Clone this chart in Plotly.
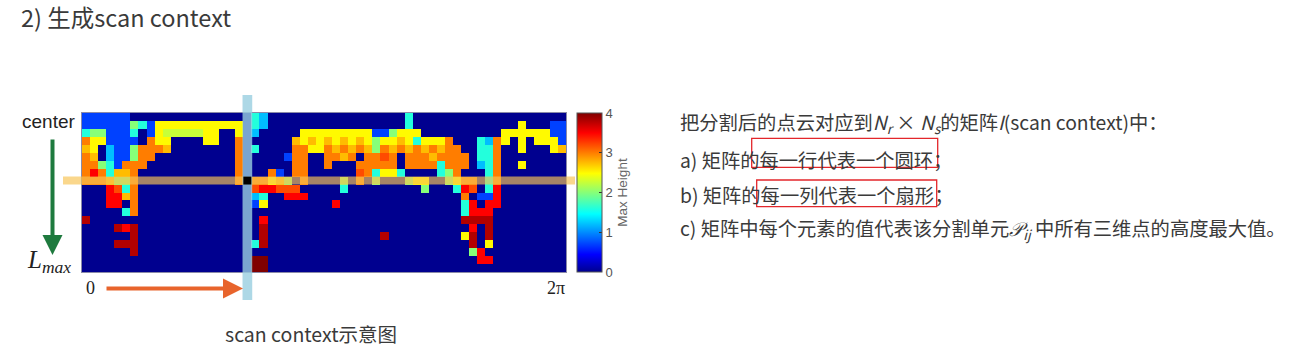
import plotly.graph_objects as go

W, H = 1296, 361

# ---- data: scan context matrix (20 rings x 60 sectors) ----
# each character is a quantised max-height level
LEVELS = {'.': 0.0, 'b': 0.7, 'c': 1.2, 'C': 1.6, 'g': 2.0, 'G': 2.25, 'y': 2.5, 'Y': 2.75,
          'o': 3.0, 'O': 3.2, 'r': 3.5, 'R': 3.8, 'D': 4.0}

SC_ROWS = [
    "bbbbbb...." ".........." ".Cc......." ".........." "C........." "..........",
    "bbbbbbgCby" "yyyyyyyyyy" ".Cc......." ".........." "C........." "....y...bb",
    "CggbbbC.by" "GGGGGyy..y" ".c.....yyy" "yyyyyybbgy" "yy........" "..yyyyyybb",
    "oyybbbb.oy" "y....yy..o" "......YyYy" "YyYyYygyyY" "yCyyyo...C" "coy.y.yyyb",
    "Yy.cbbgooo" "Y........o" ".C....ooyy" "oYoYoYgoYo" "YoYoYoo..C" "Co..y...yY",
    "oY.cbbgoo." ".........o" ".....boo.." "ooYo.ooOo." "oooYoooo.C" "Co........",
    "oogCbooo.." ".........o" "......oo.." "o...ooooo." "ooooCooo.c" "Co..y.....",
    "oroCYYo..." ".........o" "...ob.oo.." "....OoCyyC" "....Cgo..." "Co........",
    "oooYggo..." ".........o" ".ooyYg.o.." "..g.o.g..." "gyy..gyoo." "Co........",
    "...rOCo..." ".........." ".OrrOOO..." "..C......." "..g...CrO." "Cr........",
    "...rrYo..." ".........." ".cC..rrr.." ".........." ".......o.b" "br........",
    "...rr.o..." ".........." ".by......." ".r........" ".......Cr." "rr........",
    ".....Co..." ".........." ".........." ".........." ".......Crr" "r.........",
    "R........." ".........." "..r......." ".........." ".......RRR" "R.........",
    "....RrR..." ".........." "..R......." ".........." "........r." "R.........",
    "......R..." ".........." "..R......." ".......R.." ".......yR." "R.........",
    "....RRR..." ".........." ".CR......." ".........." "........R." "y.........",
    "......R..." ".........." ".........." ".........." "........gr" "..........",
    ".........." ".........." ".DD......." ".........." ".........r" "r.........",
    ".........." ".........." ".DD......." ".........." ".........." "..........",
]
for r in SC_ROWS:
    assert len(r) == 60, len(r)

Z = [[LEVELS[ch] for ch in row] for row in SC_ROWS]
RINGS = list(range(len(SC_ROWS)))
SECTORS = list(range(60))
HIGHLIGHT_RING = 8
HIGHLIGHT_SECTOR = 20
CBAR_TICKS = [0, 1, 2, 3, 4]

TITLE = "2) 生成scan context"
CAPTION = "scan context示意图"
DESC_LINES = [
    "把分割后的点云对应到<i>N<sub>r</sub></i> × <i>N<sub>s</sub></i>的矩阵<i>I</i>(scan context)中：",
    "a) 矩阵的每一行代表一个圆环；",
    "b) 矩阵的每一列代表一个扇形；",
    "c) 矩阵中每个元素的值代表该分割单元<i>𝒫<sub>ij</sub></i> 中所有三维点的高度最大值。",
]
DESC_Y = [123, 160, 195, 229]


def px(x):
    return x / W


def py(y):
    return 1 - y / H


JET = [[0.0, '#00008f'], [0.11, '#0000ff'], [0.365, '#00ffff'],
       [0.62, '#ffff00'], [0.875, '#ff0000'], [1.0, '#800000']]

CJK = "Noto Sans CJK SC"
TXT = "#3a3a3a"

fig = go.Figure()
fig.add_trace(go.Heatmap(
    z=Z, x=SECTORS, y=RINGS, colorscale=JET, zmin=0, zmax=4,
    colorbar=dict(
        x=px(577), xanchor='left', xpad=0, y=py(192.5), yanchor='middle', ypad=0,
        len=159, lenmode='pixels', thickness=25, thicknessmode='pixels',
        tickvals=CBAR_TICKS, ticks='inside', ticklen=3, tickcolor='#333',
        tickfont=dict(size=13, color='#555', family='Liberation Sans'),
        outlinewidth=1, outlinecolor='#555',
        title=dict(text='Max Height', side='right',
                   font=dict(size=13.5, color='#666', family='Liberation Sans')),
    ),
    hoverinfo='skip',
))

axis_common = dict(showgrid=False, zeroline=False, showticklabels=False, ticks='',
                   showline=True, mirror=True, linecolor='#8a8aa8', linewidth=1)
fig.update_layout(
    width=W, height=H, margin=dict(l=0, r=0, t=0, b=0),
    paper_bgcolor='white', plot_bgcolor='white',
    xaxis=dict(domain=[px(82), px(566)], range=[-0.5, 59.5], **axis_common),
    yaxis=dict(domain=[py(272), py(113)], range=[19.5, -0.5], **axis_common),
    showlegend=False,
)

shapes = [
    # horizontal highlight band (one ring)
    dict(type='rect', xref='paper', yref='y', x0=px(63), x1=px(575),
         y0=HIGHLIGHT_RING - 0.5, y1=HIGHLIGHT_RING + 0.5,
         fillcolor='rgba(248,195,84,0.67)', line=dict(width=0), layer='above'),
    # vertical highlight band (one sector)
    dict(type='rect', xref='x', yref='paper', x0=HIGHLIGHT_SECTOR - 0.6, x1=HIGHLIGHT_SECTOR + 0.6,
         y0=py(300), y1=py(95),
         fillcolor='rgba(152,206,224,0.8)', line=dict(width=0), layer='above'),
    # the selected cell
    dict(type='rect', xref='x', yref='y', x0=HIGHLIGHT_SECTOR - 0.5, x1=HIGHLIGHT_SECTOR + 0.5,
         y0=HIGHLIGHT_RING - 0.5, y1=HIGHLIGHT_RING + 0.5,
         fillcolor='black', line=dict(width=0), layer='above'),
    # red boxes around the text
    dict(type='rect', xref='paper', yref='paper', x0=px(751.7), x1=px(937.7),
         y0=py(167.3), y1=py(138.3), line=dict(color='#e3262b', width=1.3)),
    dict(type='rect', xref='paper', yref='paper', x0=px(756.7), x1=px(936.7),
         y0=py(206.7), y1=py(180), line=dict(color='#e3262b', width=1.3)),
]
fig.update_layout(shapes=shapes)

ann = []


def text(t, x, y, size, family=CJK, color=TXT, xanchor='left', yanchor='middle'):
    ann.append(dict(text=t, x=px(x), y=py(y), xref='paper', yref='paper',
                    xanchor=xanchor, yanchor=yanchor, showarrow=False,
                    font=dict(size=size, family=family, color=color)))


text(TITLE, 19, 17, 23.5)
text(CAPTION, 311, 333, 19.5, xanchor='center')
text("center", 20, 121, 19, family='Liberation Sans', color='#222')
text("<i>L</i><sub><i>max</i></sub>", 25, 261, 25, family='Liberation Serif', color='#222')
text("0", 90, 288, 18, family='Liberation Serif', color='#222', xanchor='center')
text("2π", 556, 288, 18, family='Liberation Serif', color='#222', xanchor='center')

for line, yy in zip(DESC_LINES, DESC_Y):
    text(line, 678, yy, 19.3)

# arrows
ann.append(dict(x=px(52.5), y=py(255), xref='paper', yref='paper', ax=0, ay=138 - 255,
                text='', showarrow=True, arrowhead=2, arrowsize=1, arrowwidth=4,
                arrowcolor='#1e7a3e', standoff=0))
ann.append(dict(x=px(243), y=py(288.5), xref='paper', yref='paper', ax=105 - 243, ay=0,
                text='', showarrow=True, arrowhead=2, arrowsize=1, arrowwidth=4,
                arrowcolor='#e8642c', standoff=0))

fig.update_layout(annotations=ann)
fig.write_html("out.html", config={'displayModeBar': False},
               post_script="document.body.style.margin='0';")
